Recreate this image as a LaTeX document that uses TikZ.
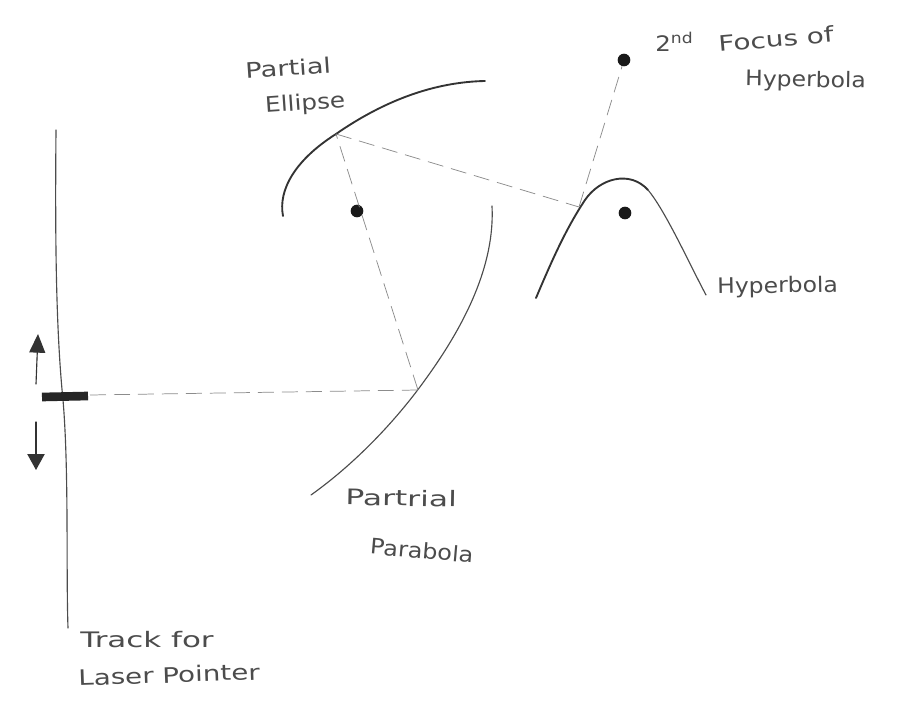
\documentclass[tikz,border=0pt]{standalone}
\usepackage{fontspec}
\setmainfont{DejaVu Sans}
\usetikzlibrary{arrows.meta}
\tikzset{
  pencil/.style={draw=black!70, line width=0.85pt, line cap=round},
  heavy/.style={draw=black!80, line width=1.4pt, line cap=round},
  ray/.style={draw=black!45, line width=0.55pt, dash pattern=on 12pt off 6pt},
  fdot/.style={circle, fill=black!90, inner sep=0pt, minimum size=9.5pt},
  lab/.style={font=\fontsize{16}{20}\selectfont, text=black!70, inner sep=0pt, anchor=west},
  move/.style={draw=black!80, fill=black!90, line width=0.85pt, line cap=round}
}
\begin{document}
\begin{tikzpicture}[x=0.75pt,y=-0.75pt]
\useasboundingbox (0,0) rectangle (900,709);
\fill[white] (0,0) rectangle (900,709);
% coordinates
\coordinate (E) at (336,134);
\coordinate (H) at (579,207);
\coordinate (P) at (418,390);
\coordinate (L) at (90,395);
\coordinate (Ua) at (36,384);
\coordinate (Ub) at (38,334);
\coordinate (Da) at (36,422);
\coordinate (Db) at (36,470);
\node[fdot] (F1) at (357,211) {};
\node[fdot] (F2) at (624,60) {};
\node[fdot] (F3) at (625,213) {};
% track
\draw[pencil] (56,130) .. controls (55,240) and (56,330) .. (63,400) .. controls (69,470) and (66,570) .. (68,628);
% pointer
\draw[draw=black!85, line width=6.5pt] (42,397) -- (88,396);
% arrows
\draw[move,-{Triangle[length=14pt,width=12pt]}] (Ua) -- (Ub);
\draw[move,-{Triangle[length=12pt,width=13pt]}] (Da) -- (Db);
% ellipse
\draw[heavy] (283,216) .. controls (278,190) and (295,160) .. (336,134) .. controls (385,100) and (435,82) .. (485,81);
% parabola
\draw[pencil] (311,495) .. controls (360,460) and (400,415) .. (425,380) .. controls (465,325) and (495,265) .. (492,206);
% hyperbola
\draw[heavy] (536,298) .. controls (550,265) and (565,230) .. (585,200) .. controls (600,178) and (630,170) .. (648,190);
\draw[pencil] (648,190) .. controls (665,210) and (690,265) .. (706,295);
% rays
\draw[ray] (L) -- (P);
\draw[ray] (P) -- (E);
\draw[ray] (E) -- (H);
\draw[ray] (H) -- (F2);
% labels
\node[lab, rotate=4, xscale=1.28] (t1a) at (245,71) {Partial};
\node[lab, rotate=4, xscale=1.16] (t1b) at (265,107) {Ellipse};
\node[lab, xscale=1.15] (t2) at (655,42) {2\textsuperscript{nd}};
\node[lab, rotate=5, xscale=1.31] (t3a) at (718,44) {Focus of};
\node[lab, rotate=-1, xscale=1.1] (t3b) at (745,80) {Hyperbola};
\node[lab, rotate=1, xscale=1.1] (t4) at (717,288) {Hyperbola};
\node[lab, rotate=-1, xscale=1.47] (t5) at (345,497) {Partrial};
\node[lab, rotate=-5, xscale=1.12] (t6) at (370,546) {Parabola};
\node[lab, xscale=1.45] (t7a) at (80,640) {Track for};
\node[lab, rotate=2, xscale=1.3] (t7b) at (78,678) {Laser Pointer};
\end{tikzpicture}
\end{document}
